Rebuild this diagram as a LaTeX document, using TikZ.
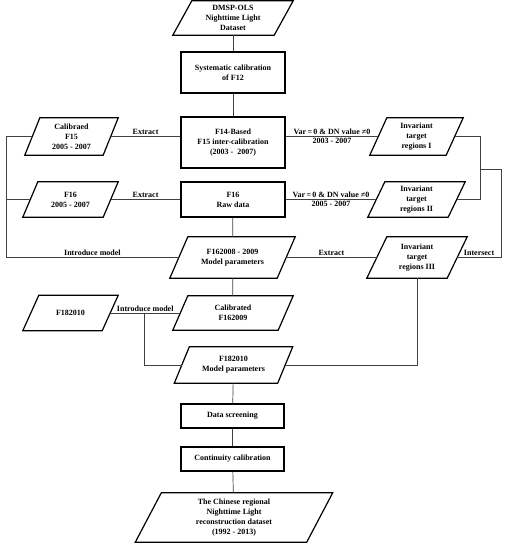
\documentclass[tikz,border=0pt]{standalone}
\usepackage{fontspec}
\setmainfont{Liberation Serif}
\begin{document}
\begin{tikzpicture}[x=1pt,y=-1pt,
  every node/.style={font=\fontsize{8}{10}\selectfont\bfseries},
  boxline/.style={line width=1.2pt, line join=miter},
  conn/.style={line width=0.7pt, draw=black!75},
  procbox/.style={draw, boxline, inner sep=0pt, align=center},
  pgtext/.style={inner sep=0pt, align=center},
  lab/.style={inner sep=1.2pt}]
\useasboundingbox (0,0) rectangle (505,550);
\newcommand{\pgram}[6]{%
  \node[pgtext, minimum width=#3pt, minimum height=#4pt] (#1) at #2 {#6};
  \draw[boxline] ([xshift=-#5pt]#1.south west) -- ([xshift=#5pt]#1.north west)
     -- ([xshift=#5pt]#1.north east) -- ([xshift=-#5pt]#1.south east) -- cycle;}
% nodes
\pgram{dmsp}{(233,18)}{101}{34}{9.5}{DMSP-OLS\\Nighttime Light\\Dataset}
\node[procbox, minimum width=104pt, minimum height=41pt] (sys) at (233,72.5) {Systematic calibration\\of F12};
\node[procbox, minimum width=104pt, minimum height=51pt] (f14) at (233,142.5) {F14-Based\\F15 inter-calibration\\(2003 -\ \ 2007)};
\pgram{f15}{(71.5,136.5)}{78}{37}{7.5}{Calibraed\\F15\\2005 - 2007}
\pgram{inv1}{(416.5,136.5)}{76}{37}{8.5}{Invariant\\target\\regions I}
\pgram{f16}{(70.5,199.5)}{80}{35}{7.5}{F16\\2005 - 2007}
\node[procbox, minimum width=104pt, minimum height=35pt] (raw) at (233,199.5) {F16\\Raw data};
\pgram{inv2}{(416.5,199.5)}{80}{35}{8.5}{Invariant\\target\\regions II}
\pgram{f162}{(232.5,257.5)}{107}{41}{9}{F162008 - 2009\\Model parameters}
\pgram{inv3}{(417,257.5)}{80}{41}{10}{Invariant\\target\\regions III}
\pgram{f18}{(70.5,313)}{79}{35}{8}{F182010}
\pgram{cal}{(233,313)}{105}{34}{7.5}{Calibrated\\F162009}
\pgram{f18m}{(233.5,365)}{103}{36}{7.5}{F182010\\Model parameters}
\node[procbox, minimum width=103pt, minimum height=24pt] (scr) at (232.5,416) {Data screening};
\node[procbox, minimum width=103pt, minimum height=24pt] (cont) at (232.5,459) {Continuity calibration};
\pgram{fin}{(234,517.5)}{171}{49}{13}{The Chinese regional\\Nighttime Light\\reconstruction dataset\\(1992 - 2013)}
% coordinates
\coordinate (lt) at (6,136.5);
\coordinate (lb) at (6,257.5);
\coordinate (r1) at (480,136.5);
\coordinate (rj) at (480,169);
\coordinate (rr) at (501,169);
\coordinate (mj) at (144,313);
% connectors
\draw[conn] (dmsp) -- (sys);
\draw[conn] (sys) -- (f14);
\draw[conn] (f15.east) -- node[lab, above]{Extract} (f15.east -| f14.west);
\draw[conn] (f14.east |- inv1.west) -- node[lab, above]{Var\,=\,0 \& DN value ≠0} node[lab, below]{2003 - 2007} (inv1.west);
\draw[conn] (f16.east) -- node[lab, above]{Extract} (raw.west);
\draw[conn] (raw.east) -- node[lab, above]{Var\,=\,0 \& DN value ≠0} node[lab, below]{2005 - 2007} (inv2.west);
\draw[conn] (raw) -- (f162);
\draw[conn] (f162.east) -- node[lab, above]{Extract} (inv3.west);
\draw[conn] (f15.west) -- (lt) -- (lb) -- node[lab, above]{Introduce model} (f162.west);
\draw[conn] (f16.west) -- (f16.west -| lt);
\draw[conn] (inv1.east) -- (r1) |- (inv2.east);
\draw[conn] (rj) -- (rr) |- node[lab, pos=0.75, above]{Intersect} (inv3.east);
\draw[conn] (f162) -- (cal);
\draw[conn] (f18.east) -- node[lab, above]{Introduce model} (cal.west);
\draw[conn] (mj) |- (f18m.west);
\draw[conn] (inv3.south) |- (f18m.east);
\draw[conn] (f18m) -- (scr);
\draw[conn] (scr) -- (cont);
\draw[conn] (cont) -- (fin);
\end{tikzpicture}
\end{document}
